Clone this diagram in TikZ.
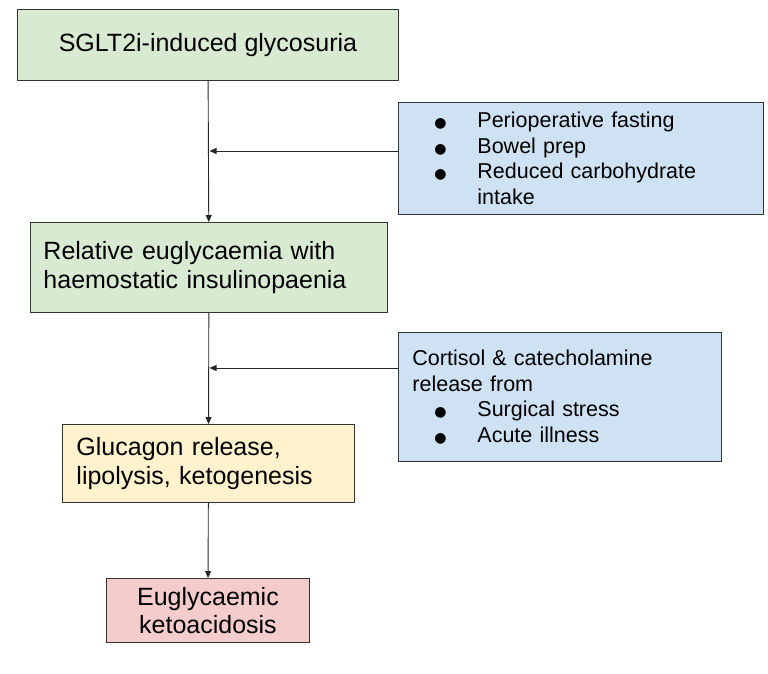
\documentclass[tikz,border=0pt]{standalone}
\usepackage{fontspec}
\setmainfont{Liberation Sans}
\newfontfamily\dejavu{DejaVu Sans}
\usetikzlibrary{arrows.meta}
\definecolor{gfill}{HTML}{D9EAD3}
\definecolor{bfill}{HTML}{CFE2F3}
\definecolor{yfill}{HTML}{FFF2CC}
\definecolor{rfill}{HTML}{F4CCCC}
\newcommand{\bul}{{\dejavu\fontsize{14}{14}\selectfont ●}}
\newcommand{\bitem}[1]{\makebox[65pt][l]{\hspace{22pt}\bul}#1}
\begin{document}
\begin{tikzpicture}[x=1pt,y=-1pt,
  box/.style={draw=black!80, line width=0.9pt, anchor=north west, inner ysep=0pt,
              font=\fontsize{25}{28.5}\selectfont},
  side/.style={box, fill=bfill, font=\fontsize{21.5}{25.5}\selectfont, inner xsep=14pt, align=left},
  conn/.style={draw=black!85, line width=0.9pt, -{Triangle[length=7pt,width=6pt]}}]
\useasboundingbox (0,0) rectangle (768,673);
\node[box, fill=gfill, minimum width=381, minimum height=71, align=center] (glyc) at (17,9)
  {SGLT2i-induced glycosuria};
\node[box, fill=gfill, minimum height=90, text width=331pt, inner xsep=13pt, align=left] (eug) at (30,222)
  {Relative euglycaemia with\\haemostatic insulinopaenia};
\node[box, fill=yfill, minimum height=78, text width=264pt, inner xsep=14pt, align=left] (keto) at (62,424)
  {Glucagon release,\\lipolysis, ketogenesis};
\node[box, fill=rfill, minimum width=203, minimum height=64, align=center] (dka) at (106,578)
  {Euglycaemic\\ketoacidosis};
\node[side, minimum height=112, text width=337pt] (fast) at (398,102)
  {\bitem{Perioperative fasting}\\\bitem{Bowel prep}\\\bitem{Reduced carbohydrate}\\\makebox[65pt]{}intake};
\node[side, minimum height=129, text width=295pt] (stress) at (398,332)
  {Cortisol \& catecholamine\\release from\\\bitem{Surgical stress}\\\bitem{Acute illness}};
\coordinate (j1) at (209.5,151);
\coordinate (j2) at (209.5,368);
\draw[conn] (glyc) -- (eug);
\draw[conn] (fast.west |- j1) -- (j1);
\draw[conn] (eug) -- (keto);
\draw[conn] (stress.west |- j2) -- (j2);
\draw[conn] (keto) -- (dka);
\end{tikzpicture}
\end{document}
